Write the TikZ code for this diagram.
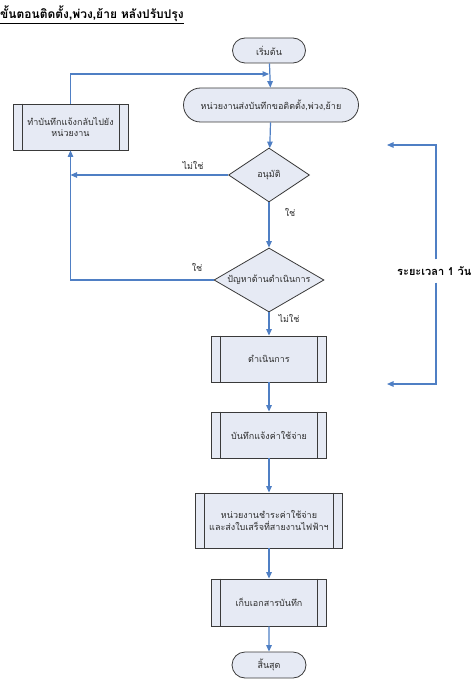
\documentclass[tikz,border=0pt]{standalone}
\usepackage{fontspec}
\newfontfamily\thaifont[Script=Thai]{Loma}
\usetikzlibrary{shapes.geometric,shapes.misc,arrows.meta,calc}
\definecolor{fillc}{HTML}{E6EAF4}
\definecolor{edgec}{HTML}{3A3A3A}
\definecolor{arrc}{HTML}{4F7FC4}
\definecolor{txtc}{HTML}{2E2E2E}
\begin{document}
\begin{tikzpicture}[x=1pt,y=-1pt,
  font=\thaifont\fontsize{9}{11.5}\selectfont, text=txtc,
  pill/.style={rounded rectangle, draw=edgec, fill=fillc, line width=0.8pt, inner sep=0pt},
  proc/.style={rectangle, draw=edgec, fill=fillc, line width=0.8pt, inner sep=0pt, align=center},
  dia/.style={diamond, draw=edgec, fill=fillc, line width=0.8pt, inner sep=0pt},
  arr/.style={draw=arrc, line width=1.2pt, -{Triangle[length=6.5pt,width=5.5pt]}},
  lab/.style={font=\thaifont\fontsize{9}{11}\selectfont, inner sep=1pt}]
\useasboundingbox (0,0) rectangle (474,679);
% title
\node[anchor=base west, inner sep=0pt, font=\thaifont\bfseries\fontsize{12}{14}\selectfont, text=black] (title) at (0,19) {\underline{ขั้นตอนติดตั้ง,พ่วง,ย้าย หลังปรับปรุง}};
% nodes
\node[pill, minimum width=73pt, minimum height=25pt] (start) at (269,50.5) {เริ่มต้น};
\node[pill, minimum width=175pt, minimum height=34pt] (req) at (271,105) {หน่วยงานส่งบันทึกขอติดตั้ง,พ่วง,ย้าย};
\node[dia, minimum width=81pt, minimum height=54pt] (d1) at (269,175) {};
\node at (d1) {อนุมัติ};
\node[dia, minimum width=110pt, minimum height=64pt] (d2) at (269,280) {};
\node at (d2) {ปัญหาด้านดำเนินการ};
\node[proc, minimum width=115pt, minimum height=46pt] (back) at (70.5,127) {ทำบันทึกแจ้งกลับไปยัง\\หน่วยงาน};
\node[proc, minimum width=115pt, minimum height=46pt] (p1) at (269,359) {ดำเนินการ};
\node[proc, minimum width=115pt, minimum height=46pt] (p2) at (269,435) {บันทึกแจ้งค่าใช้จ่าย};
\node[proc, minimum width=147pt, minimum height=55pt] (p3) at (269,520.5) {หน่วยงานชำระค่าใช้จ่าย\\และส่งใบเสร็จที่สายงานไฟฟ้าฯ};
\node[proc, minimum width=115pt, minimum height=47pt] (p4) at (269,602.5) {เก็บเอกสารบันทึก};
\node[pill, minimum width=74pt, minimum height=26pt] (end) at (269,665) {สิ้นสุด};
\foreach \n in {back,p1,p2,p3,p4}{
  \draw[edgec, line width=0.8pt] ([xshift=9.5pt]\n.north west) -- ([xshift=9.5pt]\n.south west);
  \draw[edgec, line width=0.8pt] ([xshift=-9.5pt]\n.north east) -- ([xshift=-9.5pt]\n.south east);
}
% connectors
\coordinate (j1) at (269,74);
\draw[arr] (start) -- (req);
\draw[arr] (back.north) |- (j1);
\draw[arr] (req) -- (d1);
\draw[arr] (d1.west) -- (d1.west -| back.south);
\node[lab] (l1) at (193,165) {ไม่ใช่};
\draw[arr] (d1.south) -- (d2.north);
\node[lab] (l2) at (290,212) {ใช่};
\draw[arr] (d2.west) -| (back.south);
\node[lab] (l3) at (197,267) {ใช่};
\draw[arr] (d2.south) -- (p1.north);
\node[lab] (l4) at (289,318) {ไม่ใช่};
\draw[arr] (p1) -- (p2);
\draw[arr] (p2) -- (p3);
\draw[arr] (p3) -- (p4);
\draw[arr] (p4) -- (end);
% time bracket
\node[anchor=west, font=\thaifont\bfseries\fontsize{11}{13}\selectfont, text=black, inner sep=0pt, minimum height=23pt] (span) at (397,271) {ระยะเวลา 1 วัน};
\coordinate (bt) at (387,145);
\coordinate (bb) at (387,384);
\draw[arr] (span.north -| 436,0) |- (bt);
\draw[arr] (span.south -| 436,0) |- (bb);
\end{tikzpicture}
\end{document}
